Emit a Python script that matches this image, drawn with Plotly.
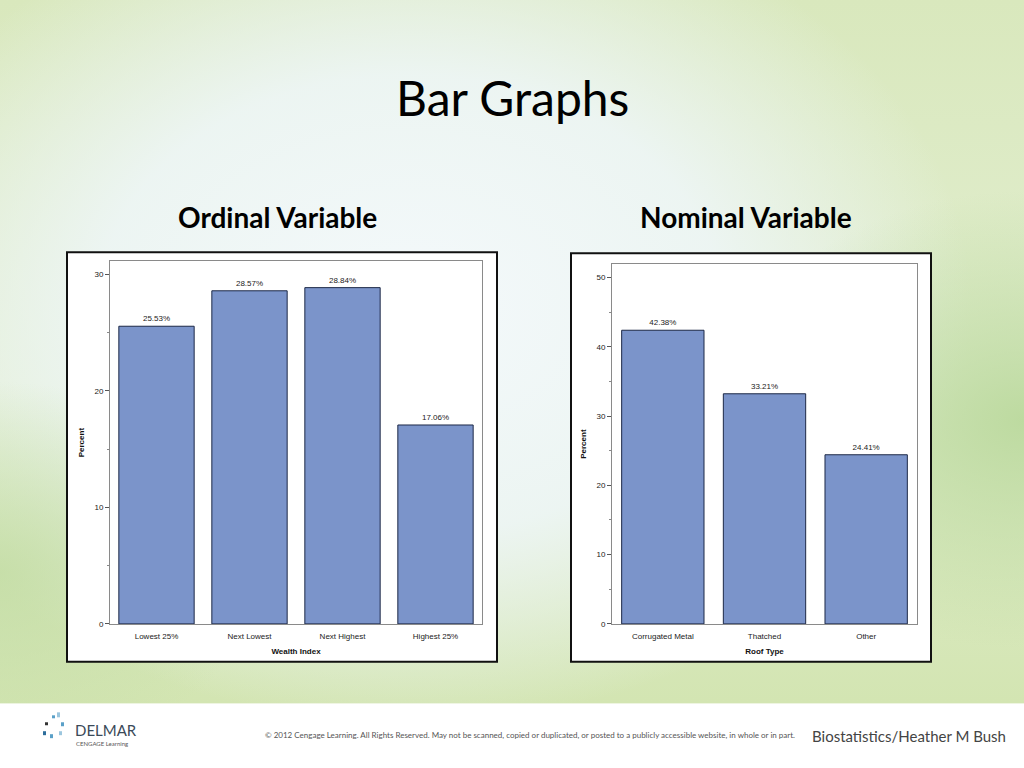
import base64
import plotly.graph_objects as go

# ---------------- data ----------------
wealth_categories = ["Lowest 25%", "Next Lowest", "Next Highest", "Highest 25%"]
wealth_percent = [25.53, 28.57, 28.84, 17.06]
wealth_ticks = [0, 10, 20, 30]

roof_categories = ["Corrugated Metal", "Thatched", "Other"]
roof_percent = [42.38, 33.21, 24.41]
roof_ticks = [0, 10, 20, 30, 40, 50]

W, H = 1024, 768
BAR_FILL = "#7b94ca"
BAR_LINE = "#1c2846"
CHART_FONT = "Liberation Sans, Arial, sans-serif"
SLIDE_FONT = "Lato, Open Sans, sans-serif"


def px_x(x):
    return x / W


def px_y(y):
    return 1 - y / H


# ---------------- background (svg gradient) ----------------
svg = f"""<svg xmlns='http://www.w3.org/2000/svg' width='{W}' height='{H}' viewBox='0 0 {W} {H}' preserveAspectRatio='none'>
<defs>
<linearGradient id='g' x1='0' y1='0' x2='0' y2='1'>
<stop offset='0' stop-color='#d9e8bd'/>
<stop offset='0.5' stop-color='#e2eed0'/>
<stop offset='0.92' stop-color='#d3e5b2'/>
</linearGradient>
<radialGradient id='w' cx='0.40' cy='0.40' r='0.55'>
<stop offset='0' stop-color='#f4f9fb' stop-opacity='1'/>
<stop offset='0.55' stop-color='#eef6f7' stop-opacity='0.9'/>
<stop offset='1' stop-color='#eef6f7' stop-opacity='0'/>
</radialGradient>
<radialGradient id='r' cx='1.0' cy='0.55' r='0.3'>
<stop offset='0' stop-color='#b9d89b' stop-opacity='0.9'/>
<stop offset='1' stop-color='#b9d89b' stop-opacity='0'/>
</radialGradient>
<radialGradient id='l' cx='0.0' cy='0.75' r='0.25'>
<stop offset='0' stop-color='#c2dca3' stop-opacity='0.8'/>
<stop offset='1' stop-color='#c2dca3' stop-opacity='0'/>
</radialGradient>
</defs>
<rect width='{W}' height='{H}' fill='url(#g)'/>
<rect width='{W}' height='{H}' fill='url(#w)'/>
<rect width='{W}' height='{H}' fill='url(#r)'/>
<rect width='{W}' height='{H}' fill='url(#l)'/>
<rect x='0' y='708' width='{W}' height='{H-708}' fill='#ffffff'/>
</svg>"""
bg_src = "data:image/svg+xml;base64," + base64.b64encode(svg.encode()).decode()

fig = go.Figure()

fig.add_trace(go.Bar(
    x=wealth_categories, y=wealth_percent, xaxis="x", yaxis="y",
    marker=dict(color=BAR_FILL, line=dict(color=BAR_LINE, width=1)),
    text=[f"{v:.2f}%" for v in wealth_percent], textposition="outside",
    textfont=dict(family=CHART_FONT, size=8, color="#222"),
    cliponaxis=False, showlegend=False, hoverinfo="skip",
))
fig.add_trace(go.Bar(
    x=roof_categories, y=roof_percent, xaxis="x2", yaxis="y2",
    marker=dict(color=BAR_FILL, line=dict(color=BAR_LINE, width=1)),
    text=[f"{v:.2f}%" for v in roof_percent], textposition="outside",
    textfont=dict(family=CHART_FONT, size=8, color="#222"),
    cliponaxis=False, showlegend=False, hoverinfo="skip",
))

axis_common = dict(
    showgrid=False, zeroline=False, showline=True, linecolor="#8a8a8a",
    linewidth=1, mirror=True,
    tickfont=dict(family=CHART_FONT, size=8, color="#222"),
)


def ann(text, x, y, size, color="#000", xanchor="center", family=SLIDE_FONT):
    return dict(text=text, x=px_x(x), y=px_y(y), xref="paper", yref="paper",
                xanchor=xanchor, yanchor="middle", showarrow=False,
                font=dict(family=family, size=size, color=color))


def logo_sq(x, y, w, h, c):
    return dict(type="rect", xref="paper", yref="paper",
                x0=px_x(x), x1=px_x(x + w), y0=px_y(y + h), y1=px_y(y),
                fillcolor=c, line=dict(width=0))


fig.update_layout(
    width=W, height=H, autosize=False,
    margin=dict(l=0, r=0, t=0, b=0),
    paper_bgcolor="#ffffff", plot_bgcolor="white",
    bargap=0.19,
    xaxis=dict(domain=[px_x(110), px_x(482)], anchor="y", range=[-0.5, 3.5],
               ticks="", ticklabelstandoff=4,
               title=dict(text="<b>Wealth Index</b>", standoff=8,
                          font=dict(family=CHART_FONT, size=8, color="#111")),
               **axis_common),
    yaxis=dict(domain=[px_y(628), px_y(263)], anchor="x", range=[0, 31.1],
               tickvals=wealth_ticks, ticks="outside", ticklen=4, tickcolor="#555",
               minor=dict(dtick=5, tick0=0, ticks="outside", ticklen=2, tickcolor="#888"),
               title=dict(text="<b>Percent</b>", standoff=8,
                          font=dict(family=CHART_FONT, size=8, color="#111")),
               **axis_common),
    xaxis2=dict(domain=[px_x(612), px_x(917)], anchor="y2", range=[-0.5, 2.5],
                ticks="", ticklabelstandoff=4,
                title=dict(text="<b>Roof Type</b>", standoff=8,
                           font=dict(family=CHART_FONT, size=8, color="#111")),
                **axis_common),
    yaxis2=dict(domain=[px_y(628), px_y(266)], anchor="x2", range=[0, 51.9],
                tickvals=roof_ticks, ticks="outside", ticklen=4, tickcolor="#555",
                minor=dict(dtick=5, tick0=0, ticks="outside", ticklen=2, tickcolor="#888"),
                title=dict(text="<b>Percent</b>", standoff=8,
                           font=dict(family=CHART_FONT, size=8, color="#111")),
                **axis_common),
    images=[dict(source=bg_src, xref="paper", yref="paper", x=0, y=1,
                 sizex=1, sizey=1, xanchor="left", yanchor="top",
                 sizing="stretch", layer="below")],
    shapes=[
        dict(type="rect", xref="paper", yref="paper", layer="below",
             x0=px_x(67), x1=px_x(497), y0=px_y(666), y1=px_y(254),
             fillcolor="white", line=dict(color="#111", width=2)),
        dict(type="rect", xref="paper", yref="paper", layer="below",
             x0=px_x(571), x1=px_x(931), y0=px_y(666), y1=px_y(255),
             fillcolor="white", line=dict(color="#111", width=2)),
        # logo marks
        logo_sq(52, 720, 3, 3, "#5aa0c8"),
        logo_sq(57, 717, 3, 5, "#9cc6de"),
        logo_sq(45, 727, 3, 3, "#333"),
        logo_sq(61, 727, 3, 4, "#5aa0c8"),
        logo_sq(43, 736, 3, 4, "#2d6e9c"),
        logo_sq(50, 739, 3, 4, "#5aa0c8"),
        logo_sq(59, 736, 3, 4, "#9cc6de"),
    ],
    annotations=[
        ann("Bar Graphs", 512, 98, 48),
        ann("<b>Ordinal Variable</b>", 277, 218, 28),
        ann("<b>Nominal Variable</b>", 746, 218, 28),
        ann("DELMAR", 73, 735, 15, "#3b4a58", "left"),
        ann("CENGAGE Learning", 74, 748, 6, "#555", "left"),
        ann("© 2012 Cengage Learning. All Rights Reserved. May not be scanned, copied or duplicated, or posted to a publicly accessible website, in whole or in part.",
            797, 740, 8, "#555", "right"),
        ann("Biostatistics/Heather M Bush", 1008, 741, 15, "#444", "right"),
    ],
)

post = (
    "document.body.style.margin='0';"
    "document.body.style.overflow='hidden';"
)

fig.write_html(
    "out.html",
    config={"displayModeBar": False, "responsive": False, "staticPlot": True},
    post_script=post,
)
